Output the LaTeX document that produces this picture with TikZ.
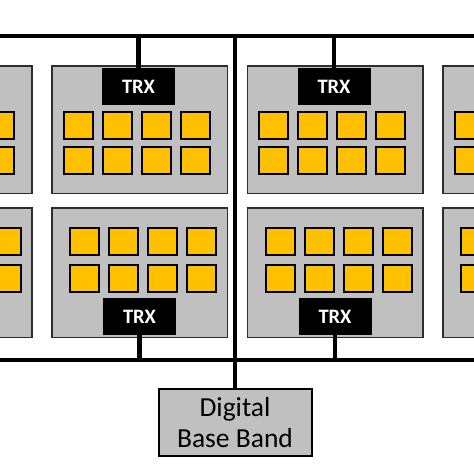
\documentclass[tikz,border=0pt]{standalone}
\usepackage{fontspec}
\setmainfont{Carlito}
\usetikzlibrary{positioning}

\definecolor{tilegray}{RGB}{192,192,192}
\definecolor{elemgold}{RGB}{255,192,0}
\definecolor{rimgray}{RGB}{45,45,45}

\tikzset{
  panel/.style={draw=rimgray,line width=1.5pt,fill=tilegray,minimum width=175.5pt,inner sep=0pt,anchor=north west},
  trx/.style={fill=black,text=white,font=\fontsize{20.5}{24}\selectfont\bfseries,minimum width=73pt,minimum height=37pt,inner sep=0pt,outer sep=0pt},
  elem/.style={draw=black,line width=2pt,fill=elemgold,minimum width=29pt,minimum height=26.5pt,inner sep=0pt,anchor=north west},
  bus/.style={line width=4.5pt},
  dbb/.style={draw=black,line width=2pt,fill=tilegray,minimum width=153pt,minimum height=67pt,inner sep=0pt,align=center,font=\fontsize{27.5}{31.5}\selectfont}
}

\begin{document}
\begin{tikzpicture}[x=1pt,y=-1pt]
\useasboundingbox (0,0) rectangle (474,474);
\clip (0,0) rectangle (474,474);

% bus lines
\coordinate (busTL) at (0,36);
\coordinate (busTR) at (474,36);
\coordinate (busBL) at (0,360);
\coordinate (busBR) at (474,360);
\coordinate (hub) at (235,36);
\draw[bus] (busTL) -- (busTR);
\draw[bus] (busBL) -- (busBR);

% antenna tiles (outer two only partly in view)
\foreach \i/\px in {0/-144.5,1/51,2/246.5,3/442} {
  \node[panel,minimum height=127.5pt] (top\i) at (\px,65) {};
  \node[panel,minimum height=129.5pt] (bot\i) at (\px,207) {};
  \foreach \c in {0,...,3} {
    \foreach \r in {0,1} {
      \node[elem] (elT\i\c\r) at ([shift={(11.5+39*\c,46+35*\r)}]top\i.north west) {};
      \node[elem] (elB\i\c\r) at ([shift={(18+39*\c,20+37*\r)}]bot\i.north west) {};
    }
  }
}

% transceivers and their feeds
\foreach \i in {1,2} {
  \node[trx,anchor=north west] (trxT\i) at ([shift={(51,3)}]top\i.north west) {TRX};
  \node[trx,anchor=south west] (trxB\i) at ([shift={(52,-3)}]bot\i.south west) {TRX};
  \draw[bus] (trxT\i.north) -- (trxT\i.north |- busTL);
  \draw[bus] (trxB\i.south) -- (trxB\i.south |- busBL);
}

% base band
\node[dbb] (dbb) at (235,422.5) {Digital\\Base Band};
\draw[bus] (hub) -- (dbb.north);
\end{tikzpicture}
\end{document}
